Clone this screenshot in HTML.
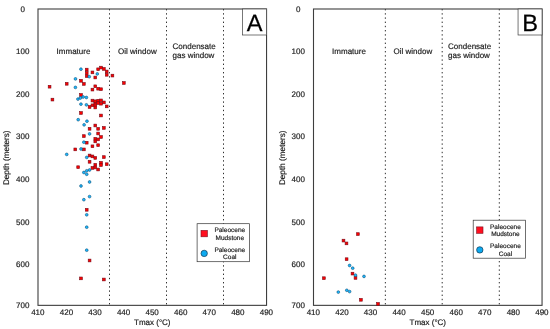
<!DOCTYPE html>
<html><head><meta charset="utf-8"><title>Tmax vs Depth</title>
<style>
html,body{margin:0;padding:0;background:#fff;}
svg{display:block;}
text{font-family:"Liberation Sans",Arial,sans-serif;fill:#1c1c1c;stroke:#1c1c1c;stroke-width:0.18px;text-rendering:geometricPrecision;}
.t{font-size:8px;}
.l{font-size:6.5px;}
.big{font-size:23.6px;fill:#000;stroke:#000;stroke-width:0.25px;}
.sq{fill:#fa0000;stroke:#7a0a18;stroke-width:0.6;}
.ci{fill:#1cb8ff;stroke:#0c4a70;stroke-width:0.55;}
.dot{stroke:#303030;stroke-width:1;stroke-dasharray:1.4 2.8;fill:none;}
.ax{stroke:#3e3e3e;stroke-width:1.1;fill:none;}
</style></head><body>
<svg width="550" height="329" viewBox="0 0 550 329">
<rect width="550" height="329" fill="#fff"/>
<g>
<line class="dot" x1="109.50" y1="9.00" x2="109.50" y2="305.35"/>
<line class="dot" x1="166.50" y1="9.00" x2="166.50" y2="305.35"/>
<line class="dot" x1="223.50" y1="9.00" x2="223.50" y2="305.35"/>
<rect class="ax" x="38.00" y="9.00" width="228.55" height="296.35"/>
<rect x="242.55" y="9.00" width="24.00" height="26.00" fill="#fff" stroke="#3e3e3e" stroke-width="0.7"/>
<text class="big" text-anchor="middle" x="254.55" y="30.90">A</text>
<text class="t" x="56.60" y="54.1">Immature</text>
<text class="t" x="118.00" y="54.1">Oil window</text>
<text class="t" x="172.60" y="49.0">Condensate</text>
<text class="t" x="172.60" y="57.8">gas window</text>
<text class="t" text-anchor="middle" x="22.70" y="12.26">0</text>
<text class="t" text-anchor="middle" x="22.70" y="54.36">100</text>
<text class="t" text-anchor="middle" x="22.70" y="97.06">200</text>
<text class="t" text-anchor="middle" x="22.70" y="139.26">300</text>
<text class="t" text-anchor="middle" x="22.70" y="182.06">400</text>
<text class="t" text-anchor="middle" x="22.70" y="224.86">500</text>
<text class="t" text-anchor="middle" x="22.70" y="266.91">600</text>
<text class="t" text-anchor="middle" x="22.70" y="308.36">700</text>
<text class="t" text-anchor="middle" x="37.85" y="314.7">410</text>
<text class="t" text-anchor="middle" x="66.42" y="314.7">420</text>
<text class="t" text-anchor="middle" x="94.99" y="314.7">430</text>
<text class="t" text-anchor="middle" x="123.56" y="314.7">440</text>
<text class="t" text-anchor="middle" x="152.12" y="314.7">450</text>
<text class="t" text-anchor="middle" x="180.69" y="314.7">460</text>
<text class="t" text-anchor="middle" x="209.26" y="314.7">470</text>
<text class="t" text-anchor="middle" x="237.83" y="314.7">480</text>
<text class="t" text-anchor="middle" x="266.40" y="314.7">490</text>
<text class="t" text-anchor="middle" x="152.28" y="325.1">Tmax (°C)</text>
<text class="t" style="font-size:8.2px" text-anchor="middle" transform="translate(9.00,157.8) rotate(-90)">Depth (meters)</text>
<rect x="197.10" y="223.70" width="52.4" height="38.0" fill="#fff" stroke="#333" stroke-width="0.7"/>
<rect x="201.00" y="230.40" width="6.4" height="6.4" fill="#ff0f1f" stroke="#7a1020" stroke-width="0.6"/>
<circle cx="204.20" cy="253.40" r="3.2" fill="#0daaf0" stroke="#123a55" stroke-width="0.7"/>
<text class="l" text-anchor="middle" x="229.80" y="232.00">Paleocene</text>
<text class="l" text-anchor="middle" x="229.80" y="239.50">Mudstone</text>
<text class="l" text-anchor="middle" x="229.80" y="251.70">Paleocene</text>
<text class="l" text-anchor="middle" x="229.80" y="259.30">Coal</text>
<rect class="sq" x="48.20" y="85.33" width="2.75" height="2.75"/>
<rect class="sq" x="51.06" y="98.22" width="2.75" height="2.75"/>
<rect class="sq" x="65.34" y="82.42" width="2.75" height="2.75"/>
<rect class="sq" x="79.63" y="79.42" width="2.75" height="2.75"/>
<rect class="sq" x="82.48" y="82.53" width="2.75" height="2.75"/>
<rect class="sq" x="85.34" y="68.22" width="2.75" height="2.75"/>
<rect class="sq" x="85.34" y="71.53" width="2.75" height="2.75"/>
<rect class="sq" x="85.34" y="74.72" width="2.75" height="2.75"/>
<rect class="sq" x="91.06" y="71.03" width="2.75" height="2.75"/>
<rect class="sq" x="93.91" y="76.12" width="2.75" height="2.75"/>
<rect class="sq" x="96.77" y="67.92" width="2.75" height="2.75"/>
<rect class="sq" x="99.63" y="66.22" width="2.75" height="2.75"/>
<rect class="sq" x="102.48" y="67.53" width="2.75" height="2.75"/>
<rect class="sq" x="105.34" y="70.12" width="2.75" height="2.75"/>
<rect class="sq" x="105.34" y="73.42" width="2.75" height="2.75"/>
<rect class="sq" x="111.05" y="74.22" width="2.75" height="2.75"/>
<rect class="sq" x="122.48" y="81.62" width="2.75" height="2.75"/>
<rect class="sq" x="93.91" y="84.92" width="2.75" height="2.75"/>
<rect class="sq" x="91.06" y="88.22" width="2.75" height="2.75"/>
<rect class="sq" x="96.77" y="87.33" width="2.75" height="2.75"/>
<rect class="sq" x="99.63" y="87.83" width="2.75" height="2.75"/>
<rect class="sq" x="79.63" y="93.62" width="2.75" height="2.75"/>
<rect class="sq" x="91.06" y="99.22" width="2.75" height="2.75"/>
<rect class="sq" x="93.91" y="99.92" width="2.75" height="2.75"/>
<rect class="sq" x="96.77" y="99.33" width="2.75" height="2.75"/>
<rect class="sq" x="99.63" y="99.03" width="2.75" height="2.75"/>
<rect class="sq" x="93.91" y="102.33" width="2.75" height="2.75"/>
<rect class="sq" x="96.77" y="101.72" width="2.75" height="2.75"/>
<rect class="sq" x="99.63" y="102.33" width="2.75" height="2.75"/>
<rect class="sq" x="102.48" y="101.03" width="2.75" height="2.75"/>
<rect class="sq" x="91.06" y="103.92" width="2.75" height="2.75"/>
<rect class="sq" x="93.91" y="103.92" width="2.75" height="2.75"/>
<rect class="sq" x="88.20" y="105.62" width="2.75" height="2.75"/>
<rect class="sq" x="93.91" y="106.12" width="2.75" height="2.75"/>
<rect class="sq" x="105.34" y="105.03" width="2.75" height="2.75"/>
<rect class="sq" x="79.63" y="111.62" width="2.75" height="2.75"/>
<rect class="sq" x="99.63" y="114.12" width="2.75" height="2.75"/>
<rect class="sq" x="93.91" y="124.12" width="2.75" height="2.75"/>
<rect class="sq" x="88.20" y="127.43" width="2.75" height="2.75"/>
<rect class="sq" x="96.77" y="127.43" width="2.75" height="2.75"/>
<rect class="sq" x="102.48" y="126.53" width="2.75" height="2.75"/>
<rect class="sq" x="96.77" y="132.12" width="2.75" height="2.75"/>
<rect class="sq" x="82.48" y="134.72" width="2.75" height="2.75"/>
<rect class="sq" x="99.63" y="135.62" width="2.75" height="2.75"/>
<rect class="sq" x="93.91" y="137.43" width="2.75" height="2.75"/>
<rect class="sq" x="96.77" y="138.03" width="2.75" height="2.75"/>
<rect class="sq" x="93.91" y="140.03" width="2.75" height="2.75"/>
<rect class="sq" x="85.34" y="141.32" width="2.75" height="2.75"/>
<rect class="sq" x="96.77" y="143.82" width="2.75" height="2.75"/>
<rect class="sq" x="91.06" y="144.93" width="2.75" height="2.75"/>
<rect class="sq" x="73.91" y="148.03" width="2.75" height="2.75"/>
<rect class="sq" x="82.48" y="148.03" width="2.75" height="2.75"/>
<rect class="sq" x="88.20" y="154.12" width="2.75" height="2.75"/>
<rect class="sq" x="91.06" y="155.03" width="2.75" height="2.75"/>
<rect class="sq" x="93.91" y="156.53" width="2.75" height="2.75"/>
<rect class="sq" x="102.48" y="155.72" width="2.75" height="2.75"/>
<rect class="sq" x="88.20" y="160.43" width="2.75" height="2.75"/>
<rect class="sq" x="99.63" y="161.43" width="2.75" height="2.75"/>
<rect class="sq" x="93.91" y="163.43" width="2.75" height="2.75"/>
<rect class="sq" x="99.63" y="163.72" width="2.75" height="2.75"/>
<rect class="sq" x="105.34" y="162.82" width="2.75" height="2.75"/>
<rect class="sq" x="76.77" y="165.82" width="2.75" height="2.75"/>
<rect class="sq" x="91.06" y="166.53" width="2.75" height="2.75"/>
<rect class="sq" x="93.91" y="166.12" width="2.75" height="2.75"/>
<rect class="sq" x="96.77" y="168.12" width="2.75" height="2.75"/>
<rect class="sq" x="85.34" y="208.43" width="2.75" height="2.75"/>
<rect class="sq" x="88.20" y="259.12" width="2.75" height="2.75"/>
<rect class="sq" x="79.63" y="277.02" width="2.75" height="2.75"/>
<rect class="sq" x="102.48" y="278.12" width="2.75" height="2.75"/>
<circle class="ci" cx="80.95" cy="69.20" r="1.4"/>
<circle class="ci" cx="89.27" cy="76.70" r="1.4"/>
<circle class="ci" cx="97.26" cy="73.90" r="1.4"/>
<circle class="ci" cx="75.47" cy="78.90" r="1.4"/>
<circle class="ci" cx="75.40" cy="87.40" r="1.4"/>
<circle class="ci" cx="77.94" cy="99.10" r="1.4"/>
<circle class="ci" cx="80.40" cy="98.00" r="1.4"/>
<circle class="ci" cx="83.14" cy="97.00" r="1.4"/>
<circle class="ci" cx="86.40" cy="97.50" r="1.4"/>
<circle class="ci" cx="80.95" cy="104.15" r="1.4"/>
<circle class="ci" cx="86.40" cy="104.85" r="1.4"/>
<circle class="ci" cx="78.20" cy="119.70" r="1.4"/>
<circle class="ci" cx="86.97" cy="121.20" r="1.4"/>
<circle class="ci" cx="84.10" cy="124.85" r="1.4"/>
<circle class="ci" cx="89.57" cy="133.90" r="1.4"/>
<circle class="ci" cx="83.86" cy="142.20" r="1.4"/>
<circle class="ci" cx="81.00" cy="149.00" r="1.4"/>
<circle class="ci" cx="66.72" cy="154.40" r="1.4"/>
<circle class="ci" cx="86.72" cy="157.40" r="1.4"/>
<circle class="ci" cx="89.57" cy="170.00" r="1.4"/>
<circle class="ci" cx="86.72" cy="170.80" r="1.4"/>
<circle class="ci" cx="83.86" cy="172.50" r="1.4"/>
<circle class="ci" cx="86.72" cy="174.30" r="1.4"/>
<circle class="ci" cx="89.57" cy="182.00" r="1.4"/>
<circle class="ci" cx="81.00" cy="186.00" r="1.4"/>
<circle class="ci" cx="89.57" cy="196.60" r="1.4"/>
<circle class="ci" cx="83.86" cy="199.70" r="1.4"/>
<circle class="ci" cx="86.72" cy="214.80" r="1.4"/>
<circle class="ci" cx="86.72" cy="227.20" r="1.4"/>
<circle class="ci" cx="86.72" cy="250.20" r="1.4"/>
</g>
<g>
<line class="dot" x1="385.35" y1="9.00" x2="385.35" y2="305.35"/>
<line class="dot" x1="442.20" y1="9.00" x2="442.20" y2="305.35"/>
<line class="dot" x1="499.30" y1="9.00" x2="499.30" y2="305.35"/>
<rect class="ax" x="313.50" y="9.00" width="228.55" height="296.35"/>
<rect x="518.05" y="9.00" width="24.00" height="26.00" fill="#fff" stroke="#3e3e3e" stroke-width="0.7"/>
<text class="big" text-anchor="middle" x="530.05" y="30.90">B</text>
<text class="t" x="332.10" y="54.1">Immature</text>
<text class="t" x="393.50" y="54.1">Oil window</text>
<text class="t" x="448.10" y="49.0">Condensate</text>
<text class="t" x="448.10" y="57.8">gas window</text>
<text class="t" text-anchor="middle" x="298.20" y="12.26">0</text>
<text class="t" text-anchor="middle" x="298.20" y="54.36">100</text>
<text class="t" text-anchor="middle" x="298.20" y="97.06">200</text>
<text class="t" text-anchor="middle" x="298.20" y="139.26">300</text>
<text class="t" text-anchor="middle" x="298.20" y="182.06">400</text>
<text class="t" text-anchor="middle" x="298.20" y="224.86">500</text>
<text class="t" text-anchor="middle" x="298.20" y="266.91">600</text>
<text class="t" text-anchor="middle" x="298.20" y="308.36">700</text>
<text class="t" text-anchor="middle" x="313.35" y="314.7">410</text>
<text class="t" text-anchor="middle" x="341.92" y="314.7">420</text>
<text class="t" text-anchor="middle" x="370.49" y="314.7">430</text>
<text class="t" text-anchor="middle" x="399.06" y="314.7">440</text>
<text class="t" text-anchor="middle" x="427.62" y="314.7">450</text>
<text class="t" text-anchor="middle" x="456.19" y="314.7">460</text>
<text class="t" text-anchor="middle" x="484.76" y="314.7">470</text>
<text class="t" text-anchor="middle" x="513.33" y="314.7">480</text>
<text class="t" text-anchor="middle" x="541.90" y="314.7">490</text>
<text class="t" text-anchor="middle" x="427.77" y="325.1">Tmax (°C)</text>
<text class="t" style="font-size:8.2px" text-anchor="middle" transform="translate(284.50,157.8) rotate(-90)">Depth (meters)</text>
<rect x="473.20" y="220.20" width="52.4" height="38.0" fill="#fff" stroke="#333" stroke-width="0.7"/>
<rect x="476.60" y="226.90" width="6.4" height="6.4" fill="#ff0f1f" stroke="#7a1020" stroke-width="0.6"/>
<circle cx="479.80" cy="249.90" r="3.2" fill="#0daaf0" stroke="#123a55" stroke-width="0.7"/>
<text class="l" text-anchor="middle" x="505.40" y="228.50">Paleocene</text>
<text class="l" text-anchor="middle" x="505.40" y="236.00">Mudstone</text>
<text class="l" text-anchor="middle" x="505.40" y="248.20">Paleocene</text>
<text class="l" text-anchor="middle" x="505.40" y="255.80">Coal</text>
<rect class="sq" x="356.52" y="232.72" width="2.75" height="2.75"/>
<rect class="sq" x="342.12" y="239.22" width="2.75" height="2.75"/>
<rect class="sq" x="345.12" y="242.03" width="2.75" height="2.75"/>
<rect class="sq" x="345.23" y="257.82" width="2.75" height="2.75"/>
<rect class="sq" x="322.52" y="276.82" width="2.75" height="2.75"/>
<rect class="sq" x="351.12" y="272.23" width="2.75" height="2.75"/>
<rect class="sq" x="354.12" y="276.52" width="2.75" height="2.75"/>
<rect class="sq" x="359.52" y="298.43" width="2.75" height="2.75"/>
<rect class="sq" x="376.62" y="302.52" width="2.75" height="2.75"/>
<circle class="ci" cx="349.60" cy="265.50" r="1.4"/>
<circle class="ci" cx="352.70" cy="268.20" r="1.4"/>
<circle class="ci" cx="355.50" cy="275.20" r="1.4"/>
<circle class="ci" cx="364.00" cy="276.40" r="1.4"/>
<circle class="ci" cx="338.30" cy="292.10" r="1.4"/>
<circle class="ci" cx="346.80" cy="290.30" r="1.4"/>
<circle class="ci" cx="349.60" cy="291.60" r="1.4"/>
</g>
</svg>
</body></html>
